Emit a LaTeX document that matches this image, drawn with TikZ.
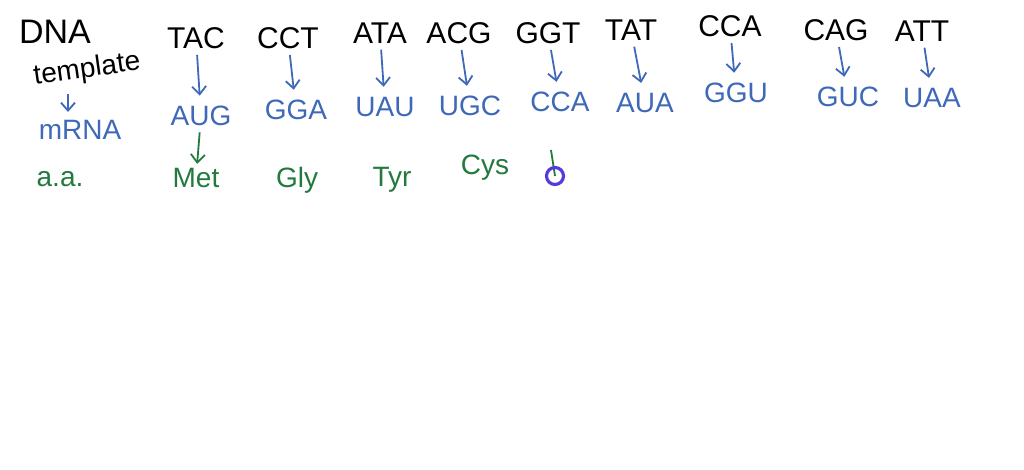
\documentclass[tikz,border=0pt]{standalone}
\usepackage{xcolor}
\usepackage{fontspec}
\setmainfont{Liberation Sans}
\usetikzlibrary{positioning, arrows.meta, calc}

\definecolor{penblue}{RGB}{62,104,184}
\definecolor{pengreen}{RGB}{34,122,62}
\definecolor{penviolet}{RGB}{84,60,220}

\begin{document}
\begin{tikzpicture}[x=0.5pt, y=-0.5pt,
		dna/.style={inner sep=1pt, text=black, font=\fontsize{15}{18}\selectfont},
		rna/.style={inner sep=1pt, text=penblue, font=\fontsize{14}{17}\selectfont},
		acid/.style={inner sep=1pt, text=pengreen, font=\fontsize{14}{17}\selectfont},
		edge/.style={penblue, line width=0.9pt, -{Straight Barb[length=4pt, width=7pt]}, shorten <=2pt, shorten >=4pt}]

		\useasboundingbox (0,0) rectangle (1024,470);

		\node[dna, inner sep=0pt, font=\fontsize{17}{20}\selectfont] (d-0) at (55,32) {DNA};
		\node[dna, inner sep=0pt, rotate=8, font=\fontsize{14}{17}\selectfont] (t-0) at (87,70) {template};
		\node[dna] (d-1) at (196,38) {TAC};
		\node[dna] (d-2) at (288,38) {CCT};
		\node[dna] (d-3) at (380,33) {ATA};
		\node[dna] (d-4) at (459,33) {ACG};
		\node[dna] (d-5) at (548,33) {GGT};
		\node[dna] (d-6) at (631,30) {TAT};
		\node[dna] (d-7) at (730,26) {CCA};
		\node[dna] (d-8) at (836,30) {CAG};
		\node[dna] (d-9) at (922,31) {ATT};

		\node[rna] (m-0) at (80,130) {mRNA};
		\node[rna] (m-1) at (201,116) {AUG};
		\node[rna] (m-2) at (296,110) {GGA};
		\node[rna] (m-3) at (385,107) {UAU};
		\node[rna] (m-4) at (470,106) {UGC};
		\node[rna] (m-5) at (560,102) {CCA};
		\node[rna] (m-6) at (645,103) {AUA};
		\node[rna] (m-7) at (736,93) {GGU};
		\node[rna] (m-8) at (848,97) {GUC};
		\node[rna] (m-9) at (932,98) {UAA};

		\node[acid] (a-0) at (60,179) {a.a.};
		\node[acid] (a-1) at (196,178) {Met};
		\node[acid] (a-2) at (297,180) {Gly};
		\node[acid] (a-3) at (392,180) {Tyr};
		\node[acid] (a-4) at (485,168) {Cys};

		\coordinate (c0) at (68,94);
		\draw[edge, shorten <=0pt, shorten >=3pt] (c0) -- (c0 |- m-0.north);
		\draw[edge] (d-1) -- (m-1);
		\draw[edge] (d-2) -- (m-2);
		\draw[edge] (d-3) -- (m-3);
		\draw[edge] (d-4) -- (m-4);
		\draw[edge] (d-5) -- (m-5);
		\draw[edge] (d-6) -- (m-6);
		\draw[edge] (d-7) -- (m-7);
		\draw[edge] (d-8) -- (m-8);
		\draw[edge] (d-9) -- (m-9);
		\draw[edge, pengreen, shorten >=1pt] (m-1) -- (a-1);

		% pen mark under CCA
		\coordinate (p1) at (551,150);
		\coordinate (p2) at (555,176);
		\draw[pengreen, line width=0.9pt] (p1) -- (p2);
		\draw[penviolet, line width=1.6pt] (p2) circle (8.5);
\end{tikzpicture}
\end{document}
